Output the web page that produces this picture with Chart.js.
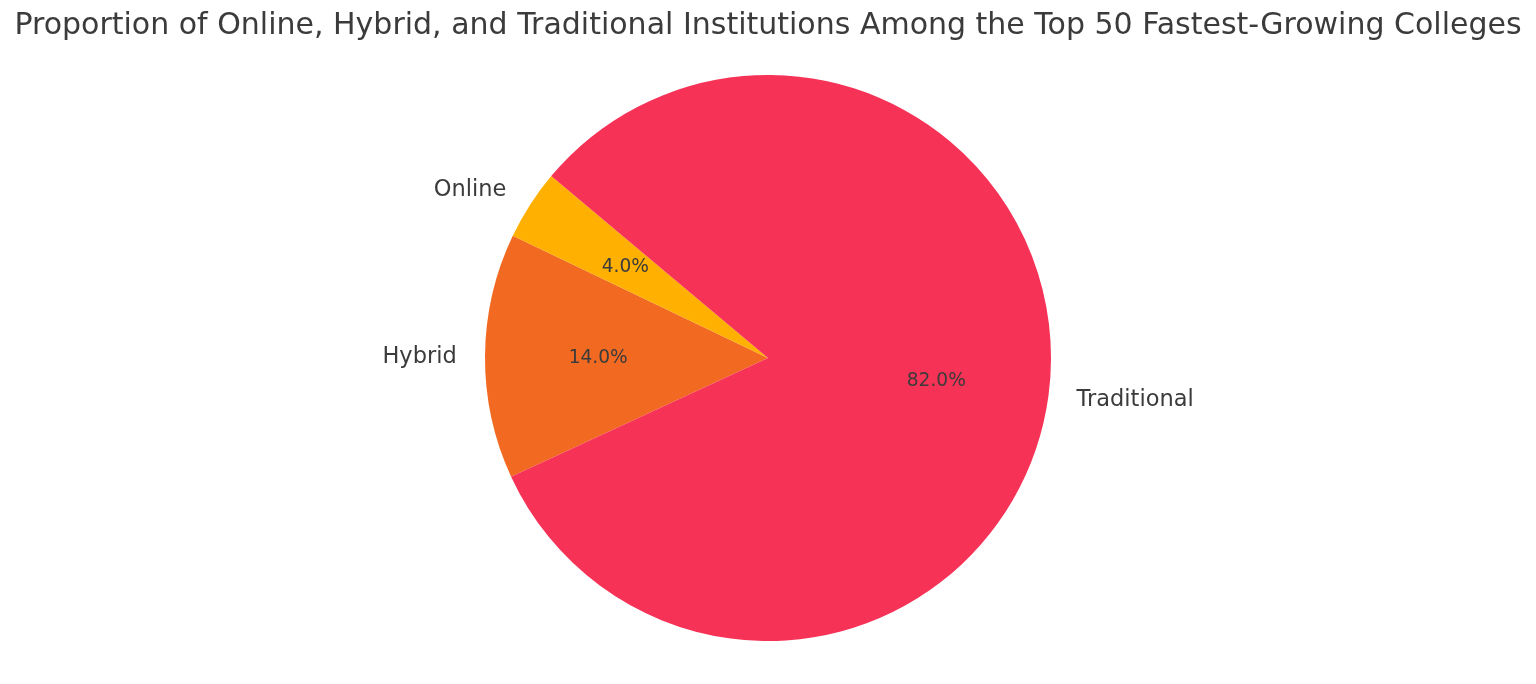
<!DOCTYPE html>
<html lang="en">
<head>
    <meta charset="UTF-8" />
    <title>Institution Types - Pie</title>
    <script src="https://cdn.jsdelivr.net/npm/chart.js"></script>
    <style>
        html, body {
            margin: 0;
            padding: 0;
            background: #fff;
        }
        .wrap {
            width: 1536px;
            height: 684px;
        }
    </style>
</head>
<body>
    <div class="wrap">
        <canvas id="pieChart"></canvas>
    </div>

    <script>
        // drawn clockwise in this order (matplotlib went counter-clockwise from 140deg)
        const categories = ['Hybrid', 'Online', 'Traditional'];
        const shares = [14, 4, 82];
        const sliceColors = ['#F26A22', '#FFB000', '#F63257'];

        const textColor = '#3b3b3b';
        const fontFam = "'DejaVu Sans', sans-serif";

        // outside labels + percentages, like matplotlib autopct
        const sliceLabels = {
            id: 'sliceLabels',
            afterDatasetsDraw(chart) {
                const ctx = chart.ctx;
                const meta = chart.getDatasetMeta(0);
                const total = shares.reduce((a, b) => a + b, 0);
                ctx.save();
                ctx.fillStyle = textColor;
                meta.data.forEach((arc, i) => {
                    const p = arc.getProps(['x', 'y', 'startAngle', 'endAngle', 'outerRadius'], true);
                    const mid = (p.startAngle + p.endAngle) / 2;
                    const c = Math.cos(mid), s = Math.sin(mid);

                    ctx.font = '22.5px ' + fontFam;
                    ctx.textBaseline = 'middle';
                    ctx.textAlign = c > 0 ? 'left' : 'right';
                    ctx.fillText(categories[i], p.x + 1.1 * p.outerRadius * c, p.y + 1 + 1.1 * p.outerRadius * s);

                    ctx.font = '18.6px ' + fontFam;
                    ctx.textAlign = 'center';
                    const pct = (shares[i] / total * 100).toFixed(1) + '%';
                    ctx.fillText(pct, p.x + 0.6 * p.outerRadius * c, p.y + 1 + 0.6 * p.outerRadius * s);
                });
                ctx.restore();
            }
        };

        new Chart(document.getElementById('pieChart'), {
            type: 'pie',
            data: {
                labels: categories,
                datasets: [{
                    data: shares,
                    backgroundColor: sliceColors,
                    borderWidth: 0
                }]
            },
            options: {
                responsive: true,
                maintainAspectRatio: false,
                animation: false,
                rotation: -114.8,
                layout: {
                    padding: { top: 0, bottom: 43, left: 0, right: 0 }
                },
                plugins: {
                    legend: { display: false },
                    tooltip: { enabled: false },
                    title: {
                        display: true,
                        text: 'Proportion of Online, Hybrid, and Traditional Institutions Among the Top 50 Fastest-Growing Colleges',
                        color: textColor,
                        font: { family: fontFam, size: 30, weight: 'normal' },
                        padding: { top: 8.5, bottom: 30.5 }
                    }
                }
            },
            plugins: [sliceLabels]
        });
    </script>
</body>
</html>
